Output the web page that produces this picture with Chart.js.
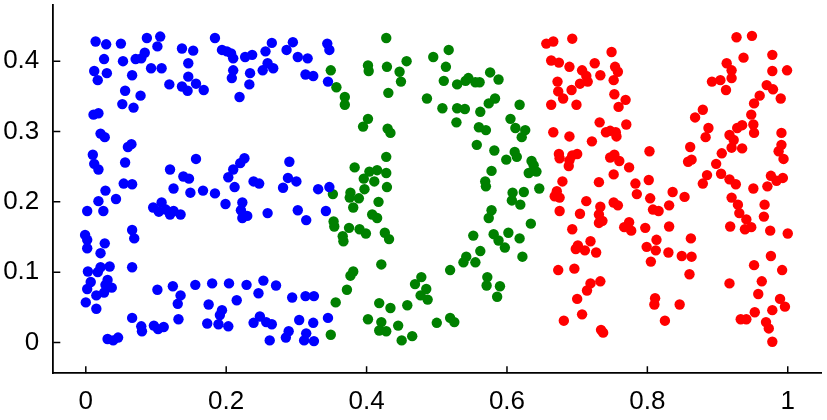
<!DOCTYPE html>
<html>
<head>
<meta charset="utf-8">
<script src="https://cdn.jsdelivr.net/npm/chart.js@4"></script>
<style>
  html, body { margin: 0; padding: 0; background: #fff; }
  #wrap { width: 827px; height: 420px; position: relative; }
</style>
</head>
<body>
<div id="wrap"><canvas id="myChart"></canvas></div>
<script>
// tick positions and labels
const xTicks = [0, 0.2, 0.4, 0.6, 0.8, 1];
const xTickLabels = ["0", "0.2", "0.4", "0.6", "0.8", "1"];
const yTicks = [0, 0.1, 0.2, 0.3, 0.4];
const yTickLabels = ["0", "0.1", "0.2", "0.3", "0.4"];

// "E" points (blue)
const eX = [0.014,0.106,0.087,0.029,0.050,0.102,0.137,0.153,0.026,0.053,0.071,0.079,0.084,0.012,0.017,0.030,0.066,0.093,0.108,0.146,
  0.146,0.119,0.137,0.145,0.157,0.056,0.078,0.052,0.068,0.011,0.018,0.021,0.027,0.060,0.065,0.010,0.012,0.018,0.056,0.054,
  0.066,0.120,0.157,0.139,0.147,0.125,0.149,0.028,0.018,0.043,0.002,0.025,0.096,0.108,0.104,0.114,0.120,0.125,0.135,-0.001,
  0.002,0.002,0.027,0.021,0.066,0.069,0.066,0.003,0.017,0.021,0.034,0.031,0.007,0.002,0.028,0.037,0.015,0.026,0.000,0.015,
  0.102,0.124,0.135,0.131,0.156,0.132,0.066,0.079,0.080,0.097,0.103,0.111,0.031,0.039,0.046,
  0.184,0.194,0.201,0.207,0.210,0.227,0.237,0.210,0.208,0.234,0.233,0.219,0.256,0.265,0.259,0.252,0.267,0.286,0.295,0.302,
  0.316,0.313,0.324,0.344,0.347,0.345,0.168,
  0.167,0.184,0.199,0.203,0.210,0.220,0.226,0.212,0.223,0.221,0.223,0.230,0.239,0.247,0.259,0.281,0.288,0.290,0.300,0.302,
  0.314,0.331,0.347,0.342,
  0.180,0.204,0.229,0.253,0.246,0.271,0.175,0.194,0.191,0.215,0.173,0.189,0.203,0.239,0.248,0.257,0.265,0.262,0.294,0.289,
  0.285,0.304,0.313,0.325,0.324,0.314,0.311,0.325,0.345];
const eY = [0.428,0.435,0.433,0.424,0.425,0.421,0.418,0.415,0.403,0.400,0.403,0.404,0.412,0.386,0.373,0.383,0.380,0.390,0.390,0.397,
  0.378,0.367,0.364,0.358,0.368,0.358,0.351,0.339,0.334,0.324,0.326,0.297,0.292,0.278,0.282,0.267,0.254,0.246,0.256,0.226,
  0.225,0.246,0.261,0.236,0.233,0.219,0.213,0.216,0.201,0.204,0.187,0.187,0.192,0.199,0.186,0.189,0.182,0.187,0.182,0.153,
  0.146,0.134,0.141,0.127,0.160,0.148,0.107,0.101,0.100,0.107,0.108,0.089,0.086,0.076,0.082,0.078,0.067,0.071,0.057,0.048,
  0.075,0.080,0.067,0.055,0.082,0.033,0.035,0.023,0.016,0.024,0.019,0.022,0.005,0.003,0.007,
  0.433,0.416,0.414,0.411,0.404,0.406,0.409,0.387,0.376,0.383,0.367,0.349,0.414,0.426,0.397,0.387,0.390,0.416,0.427,0.406,
  0.404,0.381,0.379,0.425,0.416,0.371,0.359,
  0.216,0.212,0.197,0.235,0.246,0.255,0.262,0.221,0.199,0.188,0.177,0.180,0.229,0.226,0.184,0.220,0.234,0.257,0.229,0.188,
  0.174,0.218,0.221,0.187,
  0.084,0.084,0.082,0.088,0.070,0.081,0.054,0.046,0.039,0.060,0.027,0.026,0.023,0.028,0.037,0.029,0.026,0.003,0.064,0.016,
  0.007,0.032,0.066,0.066,0.028,0.013,0.003,0.002,0.035];

// "D" points (green)
const dX = [0.349,0.357,0.369,0.369,0.402,0.403,0.402,0.395,0.428,0.429,0.431,0.430,0.434,
  0.428,0.383,0.404,0.415,0.428,0.396,0.411,0.397,0.429,0.352,0.377,0.376,0.389,0.381,0.417,0.408,0.415,0.353,0.354,0.375,
  0.390,0.399,0.366,0.367,0.426,0.432,
  0.377,0.381,0.372,0.356,0.349,0.402,0.421,0.418,0.434,0.421,0.428,0.418,
  0.447,0.449,0.457,0.486,0.495,0.517,0.513,0.510,0.508,0.529,0.541,0.545,0.555,0.561,0.529,0.540,0.528,0.576,0.588,0.583,
  0.574,0.562,0.618,0.605,0.612,0.626,0.621,0.560,0.570,0.557,0.582,0.599,0.611,0.614,0.635,0.638,0.631,0.642,0.578,0.569,
  0.570,0.646,0.624,0.608,0.607,0.619,0.578,0.574,0.634,0.552,0.581,0.588,0.597,0.602,0.618,0.622,0.562,0.542,0.538,0.555,
  0.519,0.572,0.571,0.590,0.586,0.478,0.469,0.485,0.477,0.487,0.458,0.445,0.450,0.465,0.500,0.519,0.525];
const dY = [0.387,0.363,0.349,0.338,0.394,0.386,0.318,0.307,0.433,0.392,0.355,0.304,0.298,
  0.264,0.249,0.243,0.245,0.241,0.233,0.229,0.218,0.221,0.211,0.213,0.206,0.205,0.192,0.200,0.182,0.177,0.172,0.165,0.163,
  0.161,0.155,0.151,0.144,0.156,0.147,
  0.095,0.101,0.075,0.057,0.011,0.033,0.111,0.056,0.049,0.029,0.016,0.017,
  0.385,0.371,0.400,0.347,0.406,0.416,0.392,0.372,0.333,0.367,0.372,0.376,0.370,0.370,0.333,0.332,0.313,0.384,0.374,0.347,
  0.340,0.328,0.338,0.318,0.305,0.302,0.292,0.306,0.302,0.281,0.273,0.260,0.271,0.264,0.258,0.252,0.241,0.243,0.244,0.229,
  0.222,0.219,0.214,0.213,0.202,0.196,0.188,0.177,0.169,0.152,0.154,0.145,0.135,0.156,0.148,0.122,0.130,0.122,0.114,0.114,
  0.103,0.093,0.081,0.080,0.065,0.093,0.083,0.076,0.067,0.061,0.053,0.024,0.003,0.009,0.028,0.035,0.029];

// "M" points (red)
const mX = [0.656,0.666,0.663,0.674,0.672,0.673,0.680,0.663,0.666,0.674,0.675,0.679,0.671,0.675,0.675,0.673,0.681,0.668,
  0.693,0.689,0.692,0.699,0.707,0.713,0.704,0.715,0.725,0.733,0.749,0.754,0.758,0.752,0.753,0.759,0.769,0.689,0.732,0.770,
  0.721,0.741,0.747,0.755,0.756,0.693,0.700,0.689,0.688,0.747,0.753,0.760,0.774,0.752,0.731,0.803,0.783,0.785,0.802,0.804,
  0.808,0.816,0.836,0.853,0.831,0.713,0.704,0.733,0.731,0.731,0.736,0.752,0.758,0.693,0.701,0.698,0.711,0.719,0.727,0.767,
  0.774,0.777,0.797,0.831,0.813,0.799,0.812,0.805,0.830,0.849,0.863,0.862,0.860,0.696,0.719,0.714,0.733,0.700,0.707,0.734,
  0.737,0.811,0.810,0.846,0.825,
  0.927,0.949,0.937,0.913,0.920,0.920,0.892,0.904,0.912,0.868,0.879,0.887,0.883,0.861,0.863,0.858,0.906,0.898,0.885,0.879,
  0.905,0.917,0.923,0.920,0.935,0.928,0.935,0.948,0.951,0.952,0.952,0.960,0.917,0.926,0.920,0.929,0.931,0.941,0.939,0.948,
  0.918,0.951,0.952,0.917,0.958,0.953,0.933,0.941,0.963,
  0.978,0.978,0.999,0.970,0.979,0.990,0.991,0.991,0.987,0.994,0.976,0.984,0.993,0.971,0.967,0.966,0.975,1.000,0.976,0.992,
  0.989,0.996,0.978,0.969,0.973,0.978];
const mY = [0.425,0.428,0.401,0.398,0.371,0.357,0.347,0.338,0.299,0.268,0.262,0.229,0.215,0.206,0.187,0.103,0.031,0.208,
  0.432,0.392,0.359,0.338,0.387,0.379,0.368,0.371,0.397,0.380,0.413,0.392,0.385,0.373,0.353,0.335,0.345,0.293,0.313,0.310,
  0.286,0.299,0.301,0.299,0.293,0.266,0.268,0.259,0.251,0.263,0.267,0.258,0.249,0.239,0.228,0.272,0.226,0.211,0.231,0.205,
  0.189,0.187,0.214,0.207,0.195,0.201,0.183,0.193,0.182,0.170,0.173,0.199,0.195,0.161,0.138,0.133,0.131,0.144,0.128,0.164,
  0.171,0.159,0.163,0.165,0.146,0.136,0.131,0.115,0.128,0.123,0.122,0.148,0.097,0.105,0.084,0.074,0.087,0.062,0.040,0.018,
  0.014,0.063,0.054,0.054,0.031,
  0.434,0.436,0.405,0.397,0.387,0.376,0.371,0.373,0.359,0.320,0.331,0.305,0.292,0.278,0.260,0.257,0.269,0.254,0.238,0.226,
  0.240,0.295,0.288,0.277,0.276,0.305,0.309,0.324,0.310,0.298,0.340,0.351,0.232,0.225,0.206,0.196,0.184,0.175,0.161,0.164,
  0.165,0.219,0.110,0.084,0.069,0.043,0.033,0.033,0.087,
  0.409,0.386,0.387,0.366,0.360,0.347,0.298,0.281,0.272,0.261,0.237,0.230,0.234,0.222,0.196,0.179,0.159,0.155,0.123,0.103,
  0.062,0.051,0.046,0.029,0.020,0.001];

const toPoints = (xs, ys) => xs.map((x, i) => ({ x: x, y: ys[i] }));

const tickFont = { family: "'Liberation Sans', Arial, sans-serif", size: 26 };

// small tick marks drawn inside the axes box
const innerTicks = {
  id: "innerTicks",
  afterDraw(chart) {
    const ctx = chart.ctx;
    const area = chart.chartArea;
    const xs = chart.scales.x;
    const ys = chart.scales.y;
    ctx.save();
    ctx.strokeStyle = "#000";
    ctx.lineWidth = 1.5;
    ctx.beginPath();
    xTicks.forEach(v => {
      const px = xs.getPixelForValue(v);
      ctx.moveTo(px, area.bottom);
      ctx.lineTo(px, area.bottom - 7);
    });
    yTicks.forEach(v => {
      const py = ys.getPixelForValue(v);
      ctx.moveTo(area.left, py);
      ctx.lineTo(area.left + 7, py);
    });
    ctx.stroke();
    ctx.restore();
  }
};

const config = {
  type: "scatter",
  data: {
    datasets: [
      { data: toPoints(eX, eY), backgroundColor: "#0000ff" },
      { data: toPoints(dX, dY), backgroundColor: "#008000" },
      { data: toPoints(mX, mY), backgroundColor: "#ff0000" },
    ],
  },
  options: {
    responsive: true,
    maintainAspectRatio: false,
    animation: false,
    layout: { padding: { top: 3.3, right: 0, left: 0, bottom: 0 } },
    elements: { point: { radius: 5.2, borderWidth: 0, hoverRadius: 5.2 } },
    plugins: { legend: { display: false }, tooltip: { enabled: false } },
    scales: {
      x: {
        type: "linear",
        min: -0.0463,
        max: 1.0485,
        afterFit: s => { s.height = 46.7; s.paddingLeft = 0; s.paddingRight = 0; },
        afterBuildTicks: s => { s.ticks = xTicks.map(v => ({ value: v })); },
        grid: { display: false, drawTicks: false },
        border: { display: true, color: "#000", width: 1.8 },
        ticks: {
          autoSkip: false,
          maxRotation: 0,
          padding: 13,
          color: "#000",
          font: tickFont,
          callback: (v, i) => xTickLabels[i],
        },
      },
      y: {
        type: "linear",
        min: -0.0438,
        max: 0.4796,
        afterFit: s => { s.width = 53.3; s.paddingTop = 0; s.paddingBottom = 0; },
        afterBuildTicks: s => { s.ticks = yTicks.map(v => ({ value: v })); },
        grid: { display: false, drawTicks: false },
        border: { display: true, color: "#000", width: 1.8 },
        ticks: {
          autoSkip: false,
          padding: 14,
          color: "#000",
          font: tickFont,
          callback: (v, i) => yTickLabels[i],
        },
      },
    },
  },
  plugins: [innerTicks],
};

const myChart = new Chart(document.getElementById("myChart"), config);
</script>
</body>
</html>
